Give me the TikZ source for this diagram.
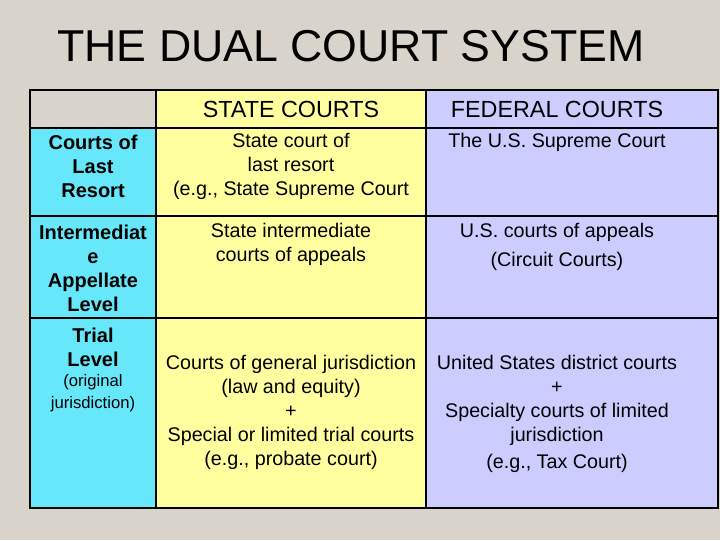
\documentclass[tikz,border=0pt]{standalone}
\usepackage{fontspec}
\setmainfont{Liberation Sans}
\begin{document}
\begin{tikzpicture}[x=0.75pt,y=-0.75pt,
  txt/.style={align=center,font=\fontsize{14.8}{18}\selectfont,inner sep=0pt},
  lab/.style={txt,font=\bfseries\fontsize{15}{18}\selectfont},
  small/.style={align=center,font=\fontsize{12.5}{16.5}\selectfont,inner sep=0pt},
  grid/.style={line width=1.6pt,black}]
\fill[fill={rgb,255:red,216;green,212;blue,204}] (0,0) rectangle (720,540);
\useasboundingbox (0,0) rectangle (720,540);
\fill[fill={rgb,255:red,102;green,232;blue,250}] (30,128) rectangle (156,508);
\fill[fill={rgb,255:red,255;green,255;blue,160}] (156,90) rectangle (426,508);
\fill[fill={rgb,255:red,204;green,204;blue,255}] (426,90) rectangle (718,508);
\draw[grid] (30,90) rectangle (718,508);
\draw[grid] (156,90) -- (156,508) (426,90) -- (426,508);
\draw[grid] (30,128) -- (718,128) (30,216) -- (718,216) (30,318) -- (718,318);
\node[font=\fontsize{33.5}{38}\selectfont,inner sep=0pt] (title) at (351,46) {THE DUAL COURT SYSTEM};
\node[txt,font=\fontsize{17.5}{20}\selectfont] (hs) at (291,109) {STATE COURTS};
\node[txt,font=\fontsize{17.5}{20}\selectfont] (hf) at (557,109) {FEDERAL COURTS};
\node[lab] (l1) at (93,166) {Courts of\\Last\\Resort};
\node[lab] (l2) at (93,268) {Intermediat\\e\\Appellate\\Level};
\node[lab] (l3) at (93,347) {Trial\\Level};
\node[small] (l3b) at (93,393) {(original\\jurisdiction)};
\node[txt] (s1) at (291,166) {State court of\\last resort\\(e.g., State Supreme Court};
\node[txt] (f1) at (557,142) {The U.S. Supreme Court};
\node[txt] (s2) at (291,244) {State intermediate\\courts of appeals};
\node[txt,font=\fontsize{14.8}{22}\selectfont] (f2) at (557,247) {U.S. courts of appeals\\(Circuit Courts)};
\node[txt] (s3) at (291,412) {Courts of general jurisdiction\\(law and equity)\\+\\Special or limited trial courts\\(e.g., probate court)};
\node[txt] (f3) at (557,414) {United States district courts\\+\\Specialty courts of limited\\jurisdiction\\[2pt](e.g., Tax Court)};
\end{tikzpicture}
\end{document}
